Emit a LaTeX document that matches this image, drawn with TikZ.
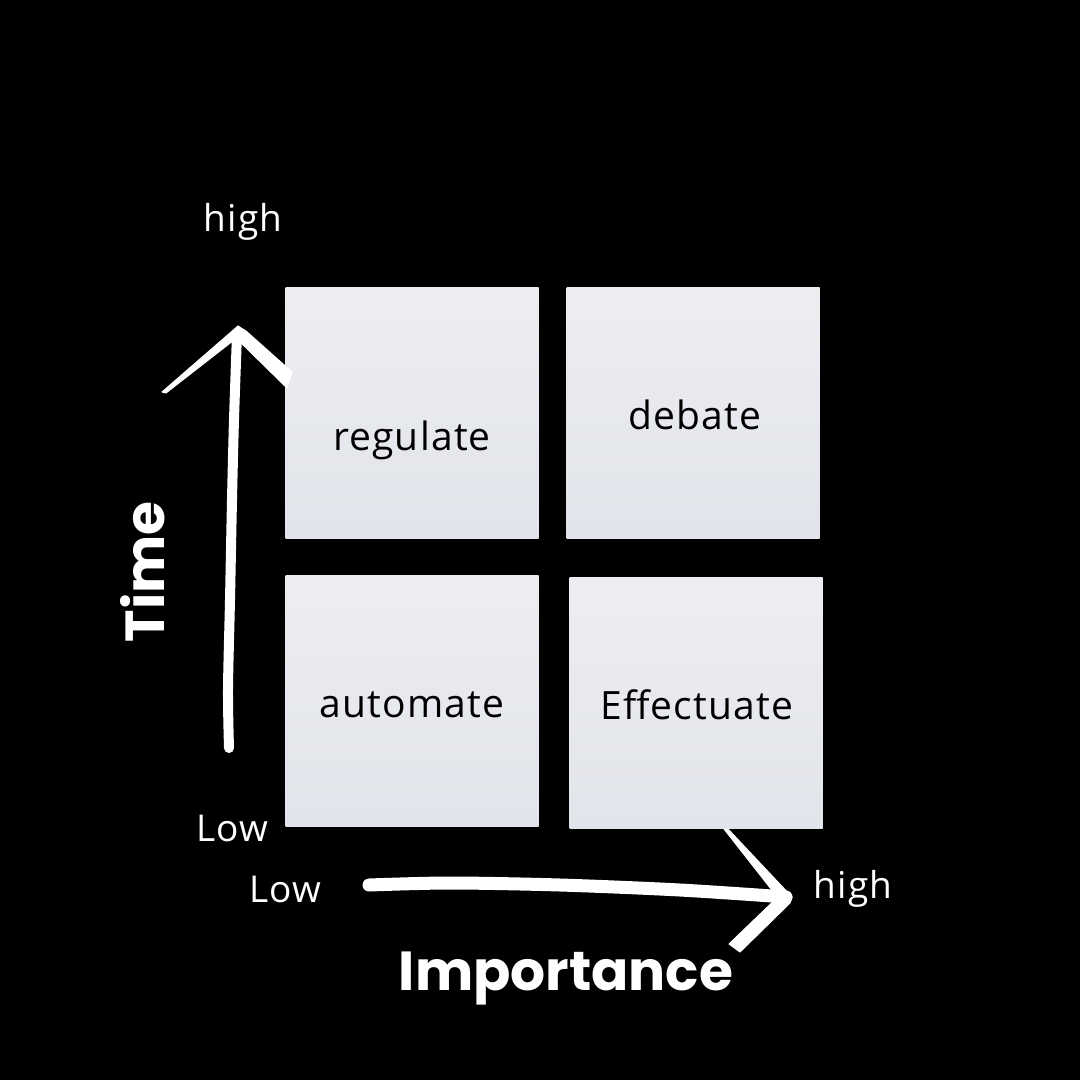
\documentclass[tikz,border=0pt]{standalone}
\usepackage{fontspec}
\setmainfont{Open Sans}[LetterSpace=3]
\newfontfamily\popfont{Poppins}
\definecolor{sqtop}{HTML}{EDEEF2}
\definecolor{sqbot}{HTML}{E1E4EA}
\begin{document}
\begin{tikzpicture}[x=1pt,y=-1pt,
  sq/.style={draw=none,minimum width=253pt,minimum height=251pt,top color=sqtop,bottom color=sqbot,inner sep=0pt},
  sqlabel/.style={text=black,font=\fontsize{39}{44}\selectfont},
  axlabel/.style={text=white,font=\fontsize{37}{42}\selectfont},
  axtitle/.style={text=white,font=\popfont\bfseries\fontsize{55}{62}\selectfont},
  stroke/.style={fill=white,draw=white,line width=1pt,line join=round}]
\fill[black] (0,0) rectangle (1080,1080);
\useasboundingbox (0,0) rectangle (1080,1080);
% squares
\node[sq] (reg) at (412,412.5) {};
\node[sq] (deb) at (693,412.5) {};
\node[sq] (aut) at (412,700.5) {};
\node[sq] (eff) at (696,703) {};
\node[sqlabel] (tReg) at (412,440) {regulate};
\node[sqlabel] (tDeb) at (695,415) {debate};
\node[sqlabel] (tAut) at (412,705) {automate};
\node[sqlabel] (tEff) at (697,705) {Effectuate};
% axis labels
\node[axlabel] (hiY) at (243,222) {high};
\node[axlabel] (loY) at (232,828) {Low};
\node[axlabel] (loX) at (285,889) {Low};
\node[axlabel] (hiX) at (853,889) {high};
\node[axtitle,rotate=90] (time) at (143,572) {Time};
\node[axtitle] (imp) at (566,978) {Importance};
% vertical arrow
\coordinate (vtip) at (238,326);
\coordinate (vbase) at (229,750);
\draw[white,line width=10pt,line cap=round] plot[smooth] coordinates {(229,748) (228,690) (230,600) (232,500) (234,420) (237,334)};
\path[stroke] (vtip) -- (243,333) -- (166,393) -- (162,392) -- cycle;
\path[stroke] (vtip) -- (246,331) -- (292,372) -- (287,388) -- (234,336) -- cycle;
% horizontal arrow
\coordinate (htip) at (792,897);
\coordinate (hbase) at (368,886);
\draw[white,line width=13pt,line cap=round] plot[smooth] coordinates {(369,885) (450,883) (560,885) (680,890) (786,897)};
\path[stroke] (724,829) -- (728,829) -- (htip) -- (782,903) -- cycle;
\path[stroke] (htip) -- (790,903) -- (740,952) -- (729,944) -- (782,893) -- cycle;
\end{tikzpicture}
\end{document}
